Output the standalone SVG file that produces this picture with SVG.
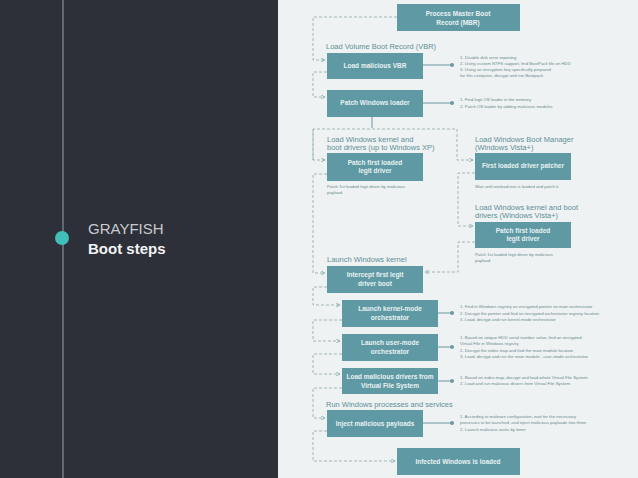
<svg xmlns="http://www.w3.org/2000/svg" width="638" height="478" viewBox="0 0 638 478">
<defs>
<marker id="ar" viewBox="0 0 10 10" refX="9" refY="5" markerWidth="6" markerHeight="6" orient="auto"><path d="M1,1 L9,5 L1,9" fill="none" stroke="#7fa3aa" stroke-width="1.6"/></marker>
<style>
.b{fill:#5f9aa4}
.bt{font-family:"Liberation Sans",sans-serif;font-size:6.5px;font-weight:bold;fill:#e8f1f2;text-anchor:middle}
.s{font-family:"Liberation Sans",sans-serif;font-size:7.5px;fill:#5f8f98}
.n{font-family:"Liberation Sans",sans-serif;font-size:4.3px;fill:#6a8a90}
.c{fill:none;stroke:#8aa8ae;stroke-width:0.8;stroke-dasharray:3,2}
.l{stroke:#6f9aa2;stroke-width:1}
.d{fill:#6f9aa2}
</style>
</defs>
<rect x="0" y="0" width="278" height="478" fill="#2d3039"/>
<rect x="278" y="0" width="360" height="478" fill="#eef2f2"/>
<line x1="63" y1="0" x2="63" y2="478" stroke="#9aa0a8" stroke-width="1"/>
<circle cx="62" cy="238" r="7" fill="#3fbfb8"/>
<text x="88" y="234" font-family="Liberation Sans,sans-serif" font-size="15" fill="#c8cacd">GRAYFISH</text>
<text x="88" y="254" font-family="Liberation Sans,sans-serif" font-size="15" font-weight="bold" fill="#f2f3f4">Boot steps</text>

<g id="connectors">
<path class="c" d="M397,17 H313 V60 H325" marker-end="url(#ar)"/>
<path class="c" d="M327,72 H313 V97 H325" marker-end="url(#ar)"/>
<line class="l" x1="372" y1="117" x2="372" y2="128"/>
<path class="c" d="M313,160 V129 H457 V160 H473" marker-end="url(#ar)"/>
<path class="c" d="M313,129 V160 H325" marker-end="url(#ar)"/>
<path class="c" d="M475,173 H458 V226 H473" marker-end="url(#ar)"/>
<path class="c" d="M475,242 H458 V272 H425" marker-end="url(#ar)"/>
<path class="c" d="M327,174 H313 V273 H325" marker-end="url(#ar)"/>
<path class="c" d="M327,287 H313 V305 H340" marker-end="url(#ar)"/>
<path class="c" d="M342,320 H313 V341 H340" marker-end="url(#ar)"/>
<path class="c" d="M342,354 H313 V374 H340" marker-end="url(#ar)"/>
<path class="c" d="M342,388 H313 V418 H325" marker-end="url(#ar)"/>
<path class="c" d="M327,431 H313 V461 H395" marker-end="url(#ar)"/>
<line class="l" x1="423" y1="65" x2="452" y2="65"/><circle class="d" cx="452" cy="65" r="2"/>
<line class="l" x1="423" y1="103" x2="452" y2="103"/><circle class="d" cx="452" cy="103" r="2"/>
<line class="l" x1="438" y1="313" x2="452" y2="313"/><circle class="d" cx="452" cy="313" r="2"/>
<line class="l" x1="438" y1="347" x2="452" y2="347"/><circle class="d" cx="452" cy="347" r="2"/>
<line class="l" x1="438" y1="381" x2="452" y2="381"/><circle class="d" cx="452" cy="381" r="2"/>
<line class="l" x1="423" y1="423" x2="452" y2="423"/><circle class="d" cx="452" cy="423" r="2"/>
</g>

<g id="mbr"><rect class="b" x="397" y="4" width="123" height="27"/><text class="bt" x="458" y="16">Process Master Boot</text><text class="bt" x="458" y="25">Record (MBR)</text></g>
<text class="s" x="326" y="49">Load Volume Boot Record (VBR)</text>
<g id="vbr"><rect class="b" x="327" y="53" width="96" height="26"/><text class="bt" x="375" y="68">Load malicious VBR</text></g>
<g class="n"><text x="460" y="59">1. Disable disk error reporting</text><text x="460" y="65">2. Using custom NTFS support, find BootPack file on HDD</text><text x="460" y="71">3. Using an encryption key specifically prepared</text><text x="460" y="77">for this computer, decrypt and run Bootpack</text></g>
<g id="loader"><rect class="b" x="327" y="90" width="96" height="27"/><text class="bt" x="375" y="105">Patch Windows loader</text></g>
<g class="n"><text x="460" y="101">1. Find legit OS loader in the memory</text><text x="460" y="108">2. Patch OS loader by adding malicious modules</text></g>

<text class="s" x="327" y="142">Load Windows kernel and</text><text class="s" x="327" y="150">boot drivers (up to Windows XP)</text>
<g id="patchxp"><rect class="b" x="327" y="153" width="96" height="28"/><text class="bt" x="375" y="165">Patch first loaded</text><text class="bt" x="375" y="173">legit driver</text></g>
<g class="n"><text x="327" y="188">Patch 1st loaded legit driver by malicious</text><text x="327" y="194">payload</text></g>

<text class="s" x="475" y="142">Load Windows Boot Manager</text><text class="s" x="475" y="150">(Windows Vista+)</text>
<g id="patcher"><rect class="b" x="475" y="153" width="96" height="27"/><text class="bt" x="523" y="168">First loaded driver patcher</text></g>
<text class="n" x="475" y="188">Wait until winload.exe is loaded and patch it</text>

<text class="s" x="475" y="210">Load Windows kernel and boot</text><text class="s" x="475" y="218">drivers (Windows Vista+)</text>
<g id="patchvista"><rect class="b" x="475" y="222" width="96" height="26"/><text class="bt" x="523" y="233">Patch first loaded</text><text class="bt" x="523" y="241">legit driver</text></g>
<g class="n"><text x="475" y="256">Patch 1st loaded legit driver by malicious</text><text x="475" y="262">payload</text></g>

<text class="s" x="327" y="262">Launch Windows kernel</text>
<g id="intercept"><rect class="b" x="327" y="266" width="96" height="27"/><text class="bt" x="375" y="277">Intercept first legit</text><text class="bt" x="375" y="286">driver boot</text></g>

<g id="kernel"><rect class="b" x="342" y="300" width="96" height="27"/><text class="bt" x="390" y="311">Launch kernel-mode</text><text class="bt" x="390" y="320">orchestrator</text></g>
<g class="n"><text x="460" y="308">1. Find in Windows registry an encrypted pointer on main orchestrator</text><text x="460" y="315">2. Decrypt the pointer and find an encrypted orchestrator registry location</text><text x="460" y="321">3. Load, decrypt and run kernel-mode orchestrator</text></g>

<g id="user"><rect class="b" x="342" y="334" width="96" height="27"/><text class="bt" x="390" y="345">Launch user-mode</text><text class="bt" x="390" y="354">orchestrator</text></g>
<g class="n"><text x="460" y="339">1. Based on unique HDD serial number value, find an encrypted</text><text x="460" y="345">Virtual File in Windows registry</text><text x="460" y="352">2. Decrypt the index map and find the main module location</text><text x="460" y="358">3. Load, decrypt and run the main module - user-mode orchestrator</text></g>

<g id="drivers"><rect class="b" x="342" y="368" width="96" height="26"/><text class="bt" x="390" y="379">Load malicious drivers from</text><text class="bt" x="390" y="388">Virtual File System</text></g>
<g class="n"><text x="460" y="379">1. Based on index map, decrypt and load whole Virtual File System</text><text x="460" y="385">2. Load and run malicious drivers from Virtual File System</text></g>

<text class="s" x="326" y="407">Run Windows processes and services</text>
<g id="inject"><rect class="b" x="327" y="410" width="96" height="27"/><text class="bt" x="375" y="426">Inject malicious payloads</text></g>
<g class="n"><text x="460" y="418">1. According to malware configuration, wait for the necessary</text><text x="460" y="424">processes to be launched, and inject malicious payloads into them</text><text x="460" y="431">2. Launch malicious tasks by timer</text></g>

<g id="infected"><rect class="b" x="397" y="448" width="123" height="27"/><text class="bt" x="458" y="464">Infected Windows is loaded</text></g>
</svg>
